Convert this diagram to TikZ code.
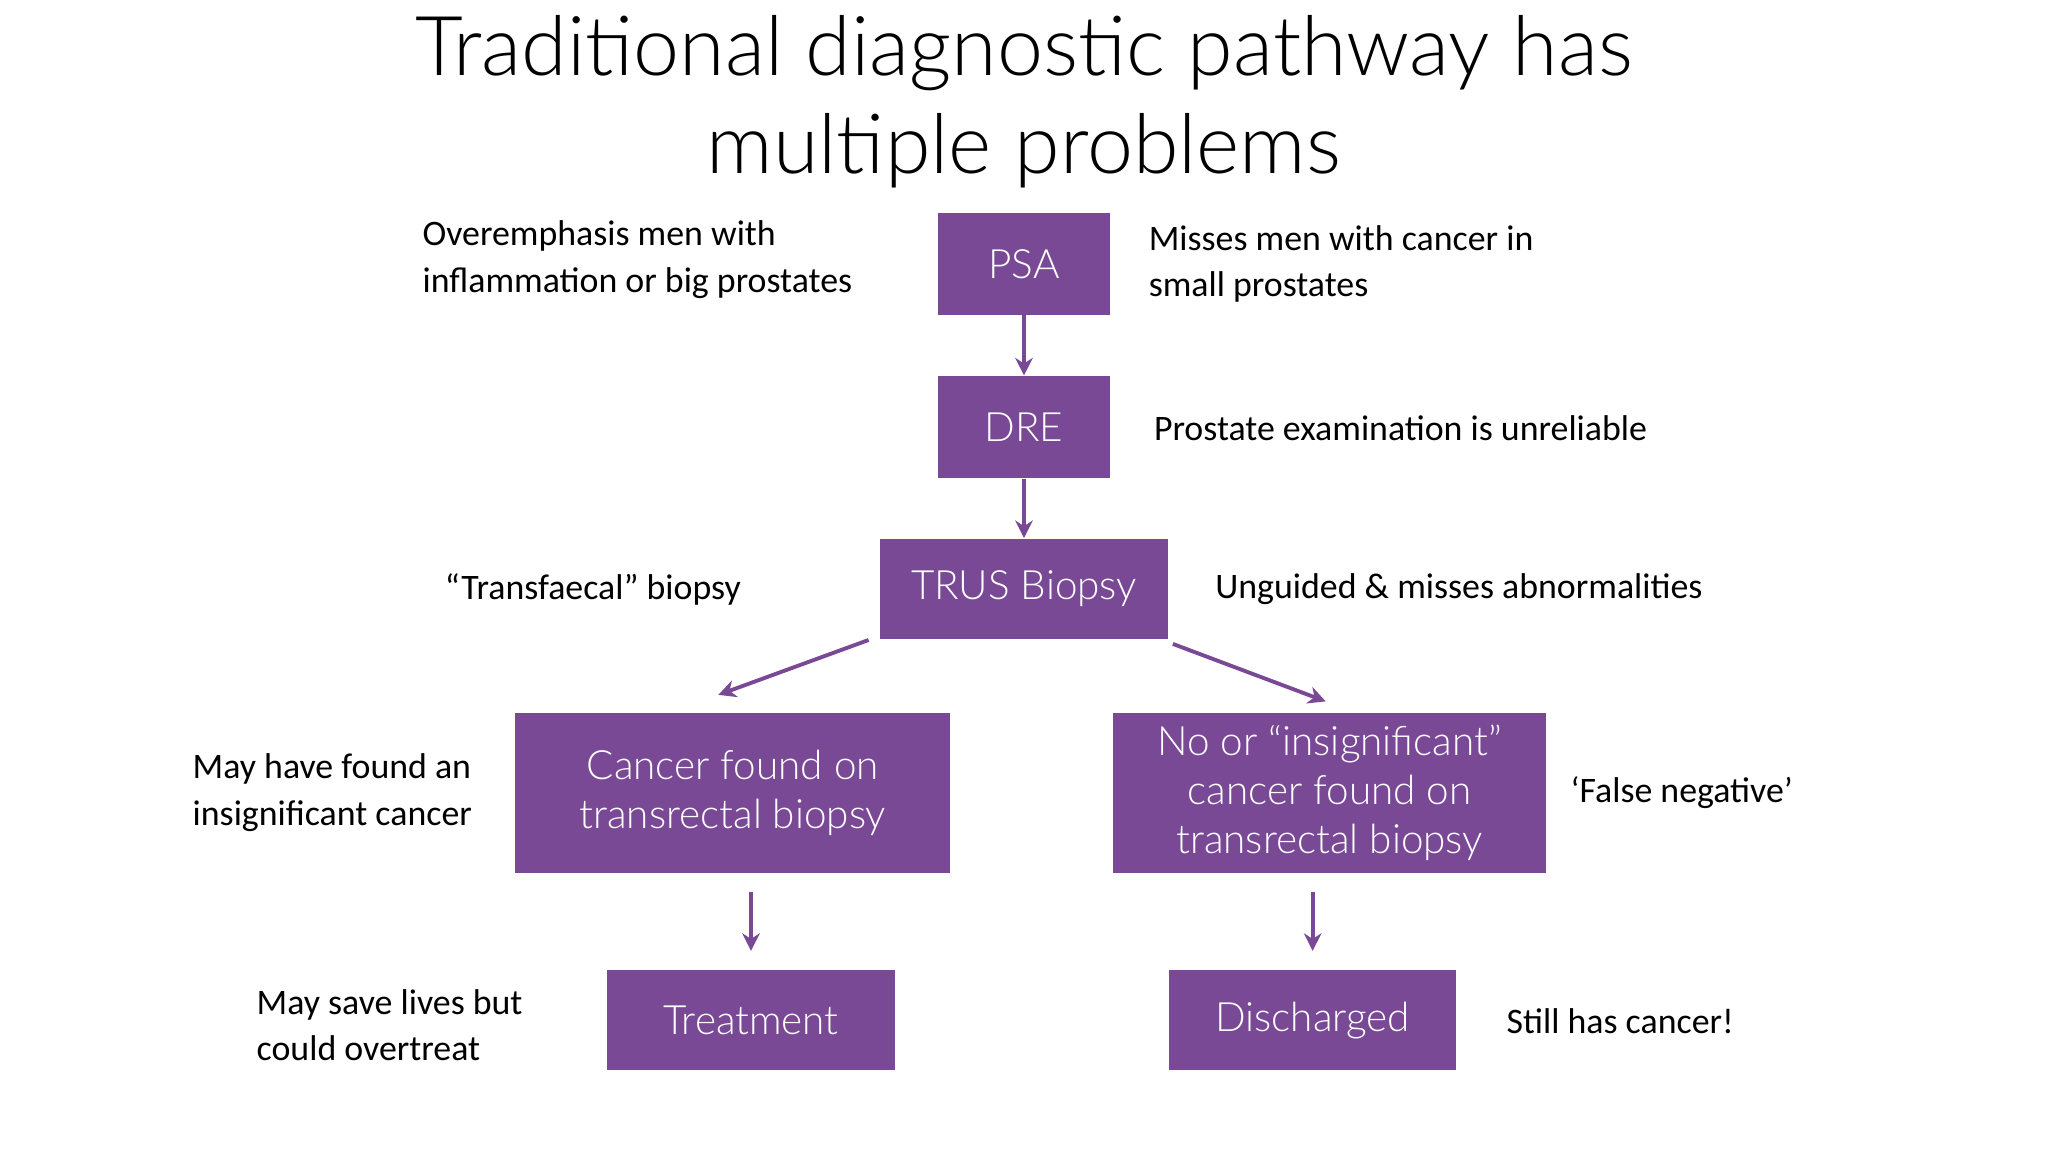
\documentclass[tikz,border=0pt]{standalone}
\usepackage{fontspec}
\setmainfont{Carlito}
\newfontfamily\boxfont{Lato Light}
\usetikzlibrary{arrows.meta}
\definecolor{pp}{RGB}{122,73,150}
\begin{document}
\begin{tikzpicture}[x=0.01306cm,y=-0.01306cm,
  bx/.style={fill=pp,text=white,font=\boxfont\fontsize{11.5}{14}\selectfont,inner sep=0pt,align=center,drop shadow/.try},
  lb/.style={font=\fontsize{10.2}{13.3}\selectfont,align=left,anchor=west,inner sep=0pt},
  ar/.style={draw=pp,line width=1.1pt,-{Stealth[length=5pt,width=5pt]}}]
\useasboundingbox (0,0) rectangle (1568,882);
\node[font=\boxfont\fontsize{23.5}{28}\selectfont,align=center] (title) at (784,78) {Traditional diagnostic pathway has\\multiple problems};
\node[bx,minimum width=132\pgflinewidth] (psa) at (784,202) [minimum width=1.724cm,minimum height=1.019cm] {PSA};
\node[bx,minimum width=1.724cm,minimum height=1.019cm] (dre) at (784,327) {DRE};
\node[bx,minimum width=2.873cm,minimum height=1.006cm] (trus) at (784,451) {TRUS Biopsy};
\node[bx,minimum width=4.349cm,minimum height=1.606cm] (can) at (561,607) {Cancer found on\\transrectal biopsy};
\node[bx,minimum width=4.336cm,minimum height=1.606cm] (no) at (1018,607) {No or “insignificant”\\cancer found on\\transrectal biopsy};
\node[bx,minimum width=2.873cm,minimum height=1.006cm] (tre) at (575,781) {Treatment};
\node[bx,minimum width=2.873cm,minimum height=1.006cm] (dis) at (1005,781) {Discharged};
\node[lb] (l1) at (323,199) {Overemphasis men with\\inflammation or big prostates};
\node[lb] (l2) at (879,202) {Misses men with cancer in\\small prostates};
\node[lb] (l3) at (883,328) {Prostate examination is unreliable};
\node[lb] (l4) at (340,451) {“Transfaecal" biopsy};
\node[lb] (l5) at (930,451) {Unguided \& misses abnormalities};
\node[lb] (l6) at (147,607) {May have found an\\insignificant cancer};
\node[lb] (l7) at (1202,607) {‘False negative’};
\node[lb] (l8) at (196,785) {May save lives but\\could overtreat};
\node[lb] (l9) at (1153,782) {Still has cancer!};
\coordinate (a1) at (665,490); \coordinate (b1) at (550,532);
\coordinate (a2) at (898,493); \coordinate (b2) at (1015,537);
\coordinate (a3) at (575,683); \coordinate (b3) at (575,728);
\coordinate (a4) at (1005,683); \coordinate (b4) at (1005,728);
\draw[ar] (psa) -- (dre);
\draw[ar] (dre) -- (trus);
\draw[ar] (a1) -- (b1);
\draw[ar] (a2) -- (b2);
\draw[ar] (a3) -- (b3);
\draw[ar] (a4) -- (b4);
\end{tikzpicture}
\end{document}
